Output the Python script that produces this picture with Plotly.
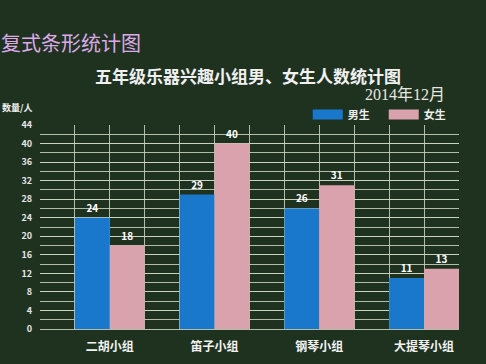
import plotly.graph_objects as go

categories = ["二胡小组", "笛子小组", "钢琴小组", "大提琴小组"]
boys = [24, 29, 26, 11]
girls = [18, 40, 31, 13]
series_names = ["男生", "女生"]
y_ticks = list(range(0, 45, 4))

BLUE = "#1a78cc"
PINK = "#d9a2ad"
BG = "#1f3220"
GRID = "rgba(205,215,195,0.85)"
CJK = "Noto Sans CJK SC"

# each category occupies 3 slots: empty, boys, girls
xb = [3 * i + 1.5 for i in range(len(categories))]
xg = [3 * i + 2.5 for i in range(len(categories))]
xc = [3 * i + 2 for i in range(len(categories))]

fig = go.Figure()
fig.add_bar(x=xb, y=boys, width=1, marker=dict(color=BLUE, line=dict(width=0)),
            text=[str(v) for v in boys], textposition="outside", cliponaxis=False,
            textfont=dict(family=CJK, size=10, color="white", weight="bold"),
            showlegend=False)
fig.add_bar(x=xg, y=girls, width=1, marker=dict(color=PINK, line=dict(width=0)),
            text=[str(v) for v in girls], textposition="outside", cliponaxis=False,
            textfont=dict(family=CJK, size=10, color="white", weight="bold"),
            showlegend=False)
# legend entries (wide rectangles via thick lines)
fig.add_scatter(x=[None], y=[None], mode="lines", name=series_names[0],
                line=dict(color=BLUE, width=12))
fig.add_scatter(x=[None], y=[None], mode="lines", name=series_names[1],
                line=dict(color=PINK, width=12))
# invisible trace on overlay axis for category labels
fig.add_scatter(x=xc, y=[None] * 4, xaxis="x2", mode="markers", showlegend=False,
                hoverinfo="skip")

fig.update_layout(
    width=486, height=364,
    paper_bgcolor=BG, plot_bgcolor=BG,
    margin=dict(l=40, r=27, t=125, b=35, autoexpand=False),
    barmode="overlay",
    font=dict(family=CJK, color="white"),
    xaxis=dict(range=[0, 12], dtick=1, tick0=0, showgrid=True, gridcolor=GRID, gridwidth=1,
               showticklabels=False, zeroline=False, showline=False, ticks="",
               automargin=False),
    xaxis2=dict(range=[0, 12], overlaying="x", side="bottom", tickmode="array",
                tickvals=xc, ticktext=categories, showgrid=False, zeroline=False,
                ticks="", ticklabelstandoff=9, automargin=False,
                tickfont=dict(family=CJK, size=12, color="#f2f2f2", weight="bold")),
    yaxis=dict(range=[0, 44], tickvals=y_ticks, showgrid=True, gridcolor=GRID, gridwidth=1,
               minor=dict(dtick=2, tick0=0, showgrid=True, gridcolor=GRID, gridwidth=1),
               zeroline=True, zerolinecolor=GRID, zerolinewidth=1,
               ticks="", ticklabelstandoff=7, automargin=False,
               tickfont=dict(family=CJK, size=9, color="#e6e6e6", weight="bold")),
    legend=dict(orientation="h", x=0.639, y=1.052, xanchor="left", yanchor="middle",
                bgcolor="rgba(0,0,0,0)", font=dict(family="Liberation Serif, " + CJK, size=11,
                                                   color="#eeeeee", weight="bold"),
                entrywidth=31, traceorder="normal"),
    annotations=[
        dict(text="复式条形统计图", xref="paper", yref="paper", x=-0.097, y=1.405,
             xanchor="left", yanchor="middle", showarrow=False,
             font=dict(family=CJK, size=20, color="#dcaae6")),
        dict(text="五年级乐器兴趣小组男、女生人数统计图", xref="paper", yref="paper",
             x=0.497, y=1.245, xanchor="center", yanchor="middle", showarrow=False,
             font=dict(family=CJK, size=17, color="#f0f0f0", weight="bold")),
        dict(text="2014年12月", xref="paper", yref="paper", x=0.772, y=1.15,
             xanchor="left", yanchor="middle", showarrow=False,
             font=dict(family="Liberation Serif, " + CJK, size=16, color="#e8e8e0")),
        dict(text="数量/人", xref="paper", yref="paper", x=-0.095, y=1.088,
             xanchor="left", yanchor="middle", showarrow=False,
             font=dict(family=CJK, size=9, color="#eeeeee", weight="bold")),
    ],
)

fig.write_html("out.html", config={"displayModeBar": False},
               post_script="document.body.style.margin='0px';document.body.style.background='%s';" % BG)
